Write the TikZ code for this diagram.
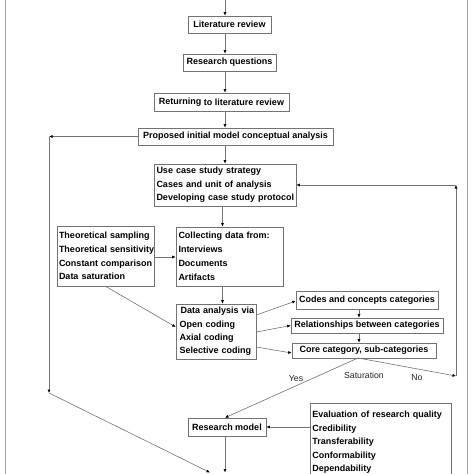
\documentclass[tikz,border=0pt]{standalone}
\usepackage{fontspec}
\setmainfont{Liberation Sans}
\usetikzlibrary{arrows.meta,calc}
\begin{document}
\begin{tikzpicture}[x=1pt,y=-1pt,
  box/.style={draw=black!55, line width=0.6pt, inner xsep=2.5pt, inner ysep=0pt,
    font=\fontsize{9}{13.5}\selectfont\bfseries, text=black},
  mbox/.style={box, align=left},
  arr/.style={draw=black!55, line width=0.6pt, -{Latex[length=3.5pt,width=3pt,black]}},
  ln/.style={draw=black!55, line width=0.6pt},
  lbl/.style={font=\fontsize{8.7}{10}\selectfont, text=black!85, inner sep=0pt}]
\useasboundingbox (0,0) rectangle (474,474);
\clip (0,0) rectangle (474,474);
\fill[white] (0,0) rectangle (474,474);
% outer frame
\draw[ln, draw=black!35, line width=0.9pt] (5,-2) -- (5,476);
\draw[ln, draw=black!35, line width=0.9pt] (467,-2) -- (467,476);
% boxes
\node[box, minimum width=83pt, minimum height=17pt] (lit) at (229.5,24.5) {Literature review};
\node[box, minimum width=93pt, minimum height=17pt] (rq) at (229.5,62.5) {Research questions};
\node[box, minimum width=135pt, minimum height=18pt] (ret) at (221.5,102) {\raisebox{1pt}{Returning} to literature review};
\node[box, minimum width=195pt, minimum height=17pt] (prop) at (235.5,136.5) {Proposed initial model conceptual analysis};
\node[mbox, minimum width=142pt, minimum height=42pt, text width=137pt] (use) at (225,185) {\mbox{Use case study strategy}\\\mbox{Cases and unit of analysis}\\\mbox{Developing case study protocol}};
\node[mbox, minimum width=97pt, minimum height=60pt, text width=93pt, inner xsep=2pt, font=\fontsize{9}{13.7}\selectfont\bfseries] (theo) at (105.5,256) {\mbox{Theoretical sampling}\\\mbox{Theoretical sensitivity}\\\mbox{Constant comparison}\\\mbox{Data saturation}};
\node[mbox, minimum width=107pt, minimum height=59pt, text width=102pt, font=\fontsize{9}{14}\selectfont\bfseries] (coll) at (229.5,256.5) {\mbox{Collecting data from:}\\\mbox{Interviews}\\\mbox{Documents}\\\mbox{Artifacts}};
\node[mbox, minimum width=80pt, minimum height=55pt, text width=73pt, inner xsep=3.5pt, font=\fontsize{9}{13.4}\selectfont\bfseries] (da) at (216,331.5) {\mbox{\hspace*{1pt}Data analysis via}\\\mbox{Open coding}\\\mbox{Axial coding}\\\mbox{Selective coding}};
\node[box, minimum width=142pt, minimum height=18pt] (codes) at (367,300) {Codes and concepts categories};
\node[box, minimum width=152pt, minimum height=15pt] (rel) at (367,325.5) {Relationships between categories};
\node[box, minimum width=144pt, minimum height=15pt] (core) at (364,350.5) {Core category, sub-categories};
\node[box, minimum width=78pt, minimum height=18pt] (rm) at (227,427) {Research model};
\node[mbox, anchor=north west, minimum width=141pt, text width=137pt, inner xsep=2pt, inner ysep=8pt] (eval) at (310,403) {\mbox{Evaluation of research quality}\\\mbox{Credibility}\\\mbox{Transferability}\\\mbox{Conformability}\\\mbox{Dependability}\\ };
% helper coordinates
\coordinate (top) at (225,0);
\coordinate (mx) at (222.5,0);
\coordinate (lx) at (49,0);
\coordinate (L2) at (49,393);
\coordinate (B2) at (210,472.5);
\coordinate (B1) at (225,472.5);
\coordinate (cx) at (359,0);
\coordinate (cs) at (358,358);
\coordinate (R1) at (456,376);
\coordinate (R2) at (456,185);
\coordinate (y257) at (0,257);
\coordinate (y327) at (0,327);
\coordinate (y315) at (0,315);
\coordinate (y301) at (0,301);
\coordinate (y332) at (0,332);
\coordinate (y347) at (0,347);
\coordinate (y353) at (0,353);
% main spine
\draw[arr] (top) -- (top |- lit.north);
\draw[arr] (top |- lit.south) -- (top |- rq.north);
\draw[arr] (top |- rq.south) -- (top |- ret.north);
\draw[arr] (top |- ret.south) -- (top |- prop.north);
\draw[arr] (top |- prop.south) -- (top |- use.north);
\draw[arr] (mx |- use.south) -- (mx |- coll.north);
\draw[arr] (mx |- coll.south) -- (mx |- da.north);
% left loop
\draw[arr] (prop.west) -- (prop.west -| lx);
\draw[arr] (prop.west -| lx) -- (L2);
\draw[arr] (L2) -- (B2);
% theoretical
\draw[arr] (theo.east |- y257) -- (coll.west |- y257);
\draw[arr] (theo.south) -- (da.west |- y327);
% data analysis to categories
\draw[arr] (da.east |- y315) -- (codes.west |- y301);
\draw[arr] (da.east |- y332) -- (rel.west);
\draw[arr] (da.east |- y347) -- (core.west |- y353);
\draw[arr] (cx |- codes.south) -- (cx |- rel.north);
\draw[arr] (cx |- rel.south) -- (cx |- core.north);
% saturation decision
\draw[arr] (cs) -- (rm.north -| top);
\draw[arr] (cs) -- (R1);
\draw[arr] (R1) -- (R2);
\draw[arr] (R2) -- (R2 -| use.east);
\node[lbl] (yes) at (296,379) {Yes};
\node[lbl] (sat) at (364,375.5) {Saturation};
\node[lbl] (no) at (417,377.5) {No};
% evaluation
\draw[arr] (eval.west |- rm.east) -- (rm.east);
\draw[arr] (top |- rm.south) -- (B1);
\end{tikzpicture}
\end{document}
